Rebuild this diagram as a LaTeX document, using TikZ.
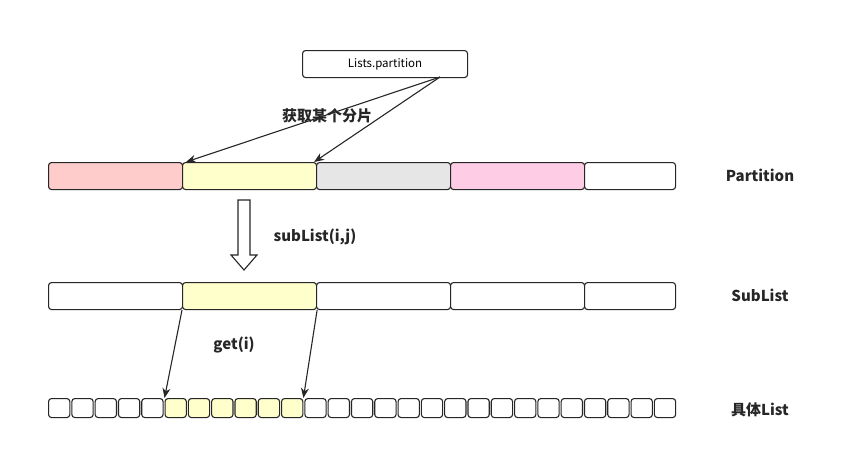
\documentclass[tikz,border=0pt]{standalone}
\usepackage{fontspec}
\setmainfont{Noto Sans CJK SC}
\usetikzlibrary{arrows.meta}
\definecolor{cpink}{HTML}{FFCCCC}
\definecolor{cyel}{HTML}{FFFFCC}
\definecolor{cgray}{HTML}{E6E6E6}
\definecolor{cpink2}{HTML}{FFCCE6}
\tikzset{
 seg/.style={draw=black!85,line width=1.1pt,rounded corners=3pt,minimum height=27pt,inner sep=0pt,anchor=north west},
 cell/.style={draw=black!85,line width=1.1pt,rounded corners=3pt,minimum width=21.3pt,minimum height=19pt,inner sep=0pt,anchor=north west},
 lbl/.style={font=\bfseries\fontsize{15}{17}\selectfont,text=black!85},
 arr/.style={draw=black!85,line width=1.1pt,-{Stealth[length=10pt,width=8pt]}}
}
\begin{document}
\begin{tikzpicture}[x=1pt,y=-1pt]
\useasboundingbox (0,0) rectangle (850,453);
\node[draw=black!85,line width=1.1pt,rounded corners=3pt,minimum width=165pt,minimum height=27pt,anchor=north west,font=\fontsize{11.5}{13}\selectfont] (lp) at (302,50) {Lists.partition};
\foreach \c/\i in {cpink/0,cyel/1,cgray/2,cpink2/3}
  \node[seg,fill=\c,minimum width=134pt] (p\i) at (48+134*\i,162) {};
\node[seg,fill=white,minimum width=91pt] (p4) at (584,162) {};
\foreach \c/\i in {white/0,cyel/1,white/2,white/3}
  \node[seg,fill=\c,minimum width=134pt] (s\i) at (48+134*\i,282) {};
\node[seg,fill=white,minimum width=91pt] (s4) at (584,282) {};
\foreach \i in {0,...,26}{
  \ifnum\i>4 \ifnum\i<11 \def\cc{cyel}\else\def\cc{white}\fi\else\def\cc{white}\fi
  \node[cell,fill=\cc] (c\i) at (48+23.3*\i,398) {};
}
\coordinate (lpb) at (440,77);
\draw[arr] (lpb) -- ([xshift=4pt]p1.north west);
\draw[arr] (lpb) -- ([xshift=-3pt]p1.north east);
\node[lbl] (t1) at (327,116) {获取某个分片};
\draw[draw=black!85,line width=1.1pt,fill=white] (238,200) -- (250,200) -- (250,255) -- (257,255) -- (244,270) -- (231,255) -- (238,255) -- cycle;
\node[lbl] (t2) at (315,237) {subList(i,j)};
\draw[arr] (s1.south west) -- (c5.north west);
\draw[arr] (s1.south east) -- (c10.north east);
\node[lbl] (t3) at (234,345) {get(i)};
\node[lbl] (r1) at (760,175) {Partition};
\node[lbl] (r2) at (760,295) {SubList};
\node[lbl] (r3) at (760,410) {具体List};
\end{tikzpicture}
\end{document}
